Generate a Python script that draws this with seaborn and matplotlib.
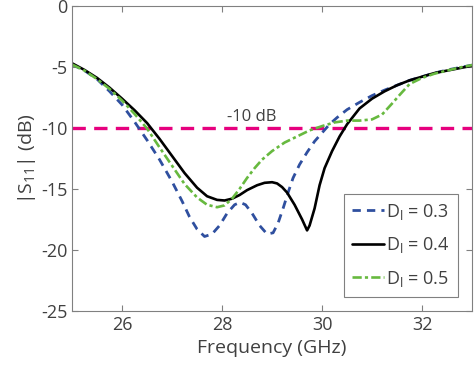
import numpy as np
import pandas as pd
import seaborn as sns
import matplotlib
matplotlib.use("Agg")
import matplotlib.pyplot as plt

# values (frequency in GHz, |S11| in dB)
f_03 = [25.0, 25.25, 25.5, 25.75, 26.0, 26.25, 26.5, 26.75, 27.0, 27.2, 27.35, 27.5,
        27.65, 27.8, 27.95, 28.1, 28.25, 28.36, 28.47, 28.6, 28.75, 28.9, 29.02, 29.12,
        29.22, 29.32, 29.42, 29.55, 29.7, 29.85, 30.0, 30.15, 30.3, 30.5, 30.75, 31.0,
        31.25, 31.5, 31.75, 32.0, 32.25, 32.5, 32.75, 33.0]
s_03 = [-4.8, -5.3, -6.0, -7.0, -8.1, -9.5, -11.0, -12.6, -14.4, -16.0, -17.3, -18.3,
        -18.9, -18.7, -18.0, -17.0, -16.3, -16.1, -16.3, -17.0, -18.0, -18.7, -18.6, -17.8,
        -16.6, -15.3, -14.1, -13.0, -12.0, -11.1, -10.4, -9.7, -9.15, -8.5, -7.9, -7.35,
        -6.9, -6.5, -6.1, -5.8, -5.5, -5.25, -5.05, -4.85]

f_04 = [25.0, 25.25, 25.5, 25.75, 26.0, 26.25, 26.5, 26.75, 27.0, 27.25, 27.5, 27.7,
        27.9, 28.05, 28.2, 28.35, 28.5, 28.7, 28.85, 29.0, 29.1, 29.2, 29.3, 29.45, 29.6,
        29.7, 29.75, 29.85, 29.95, 30.05, 30.2, 30.35, 30.5, 30.75, 31.0, 31.25, 31.5,
        31.75, 32.0, 32.25, 32.5, 32.75, 33.0]
s_04 = [-4.7, -5.25, -5.9, -6.7, -7.6, -8.55, -9.6, -10.9, -12.3, -13.7, -14.9, -15.6,
        -15.9, -15.95, -15.8, -15.5, -15.1, -14.7, -14.5, -14.45, -14.55, -14.85, -15.3, -16.3, -17.5,
        -18.4, -18.0, -16.6, -14.7, -13.3, -11.9, -10.7, -9.7, -8.4, -7.6, -7.0, -6.5,
        -6.1, -5.8, -5.5, -5.3, -5.1, -4.9]

f_05 = [25.0, 25.25, 25.5, 25.75, 26.0, 26.25, 26.5, 26.75, 27.0, 27.25, 27.5, 27.7,
        27.9, 28.05, 28.2, 28.35, 28.5, 28.65, 28.8, 29.0, 29.25, 29.5, 29.75, 30.0,
        30.25, 30.5, 30.75, 31.0, 31.2, 31.4, 31.55, 31.75, 32.0, 32.25, 32.5, 32.75, 33.0]
s_05 = [-4.8, -5.3, -6.0, -6.8, -7.75, -8.85, -10.05, -11.6, -13.1, -14.6, -15.7, -16.3,
        -16.5, -16.35, -15.8, -15.0, -14.1, -13.3, -12.6, -11.9, -11.2, -10.7, -10.2, -9.85,
        -9.55, -9.4, -9.4, -9.3, -8.9, -8.0, -7.3, -6.4, -5.9, -5.55, -5.3, -5.05, -4.85]

ref_level = -10
labels = [r'D$_\mathrm{l}$ = 0.3', r'D$_\mathrm{l}$ = 0.4', r'D$_\mathrm{l}$ = 0.5']

sns.set_style("ticks")
plt.rcParams['font.family'] = ['Open Sans', 'DejaVu Sans']
plt.rcParams['mathtext.fontset'] = 'custom'
plt.rcParams['mathtext.rm'] = 'Open Sans'
plt.rcParams['mathtext.it'] = 'Open Sans'
plt.rcParams['axes.unicode_minus'] = False

txt = '#404040'
fig = plt.figure(figsize=(4.74, 3.71), dpi=100)
ax = fig.add_axes([0.152, 0.162, 0.844, 0.822])

ax.axhline(ref_level, color='#e6007e', lw=2.4, ls=(0, (4, 2.5)), zorder=1)

sns.lineplot(x=f_03, y=s_03, ax=ax, color='#2f4f9f', lw=2.0, ls=(0, (3, 2.2)),
             label=labels[0], sort=False)
sns.lineplot(x=f_04, y=s_04, ax=ax, color='black', lw=1.9, ls='-',
             label=labels[1], sort=False)
sns.lineplot(x=f_05, y=s_05, ax=ax, color='#67b93f', lw=1.9, ls=(0, (3.5, 1.2, 1.2, 1.2)),
             label=labels[2], sort=False)

ax.text(28.6, -9.1, '-10 dB', ha='center', va='center', fontsize=12, color=txt)

ax.set_xlim(25, 33)
ax.set_ylim(-25, 0)
ax.set_xticks([26, 28, 30, 32])
ax.set_yticks([-25, -20, -15, -10, -5, 0])
ax.tick_params(direction='in', length=4, width=0.8, colors='#808080',
               labelcolor=txt, labelsize=13, top=True, right=True)
for sp in ax.spines.values():
    sp.set_color('#808080')
    sp.set_linewidth(0.8)

ax.set_xlabel('Frequency (GHz)', fontsize=14, color=txt)
ax.set_ylabel(r'$|\mathrm{S}_{11}|$ (dB)', fontsize=14, color=txt, labelpad=2)

leg = ax.legend(loc='lower right', bbox_to_anchor=(0.965, 0.046), borderaxespad=0,
                fontsize=13, handlelength=1.75, handletextpad=0.15, labelspacing=0.75,
                frameon=True, fancybox=False, framealpha=1, edgecolor='#808080',
                borderpad=0.45)
leg.get_frame().set_linewidth(0.8)
for t in leg.get_texts():
    t.set_color(txt)

fig.savefig('out.png', dpi=100)
